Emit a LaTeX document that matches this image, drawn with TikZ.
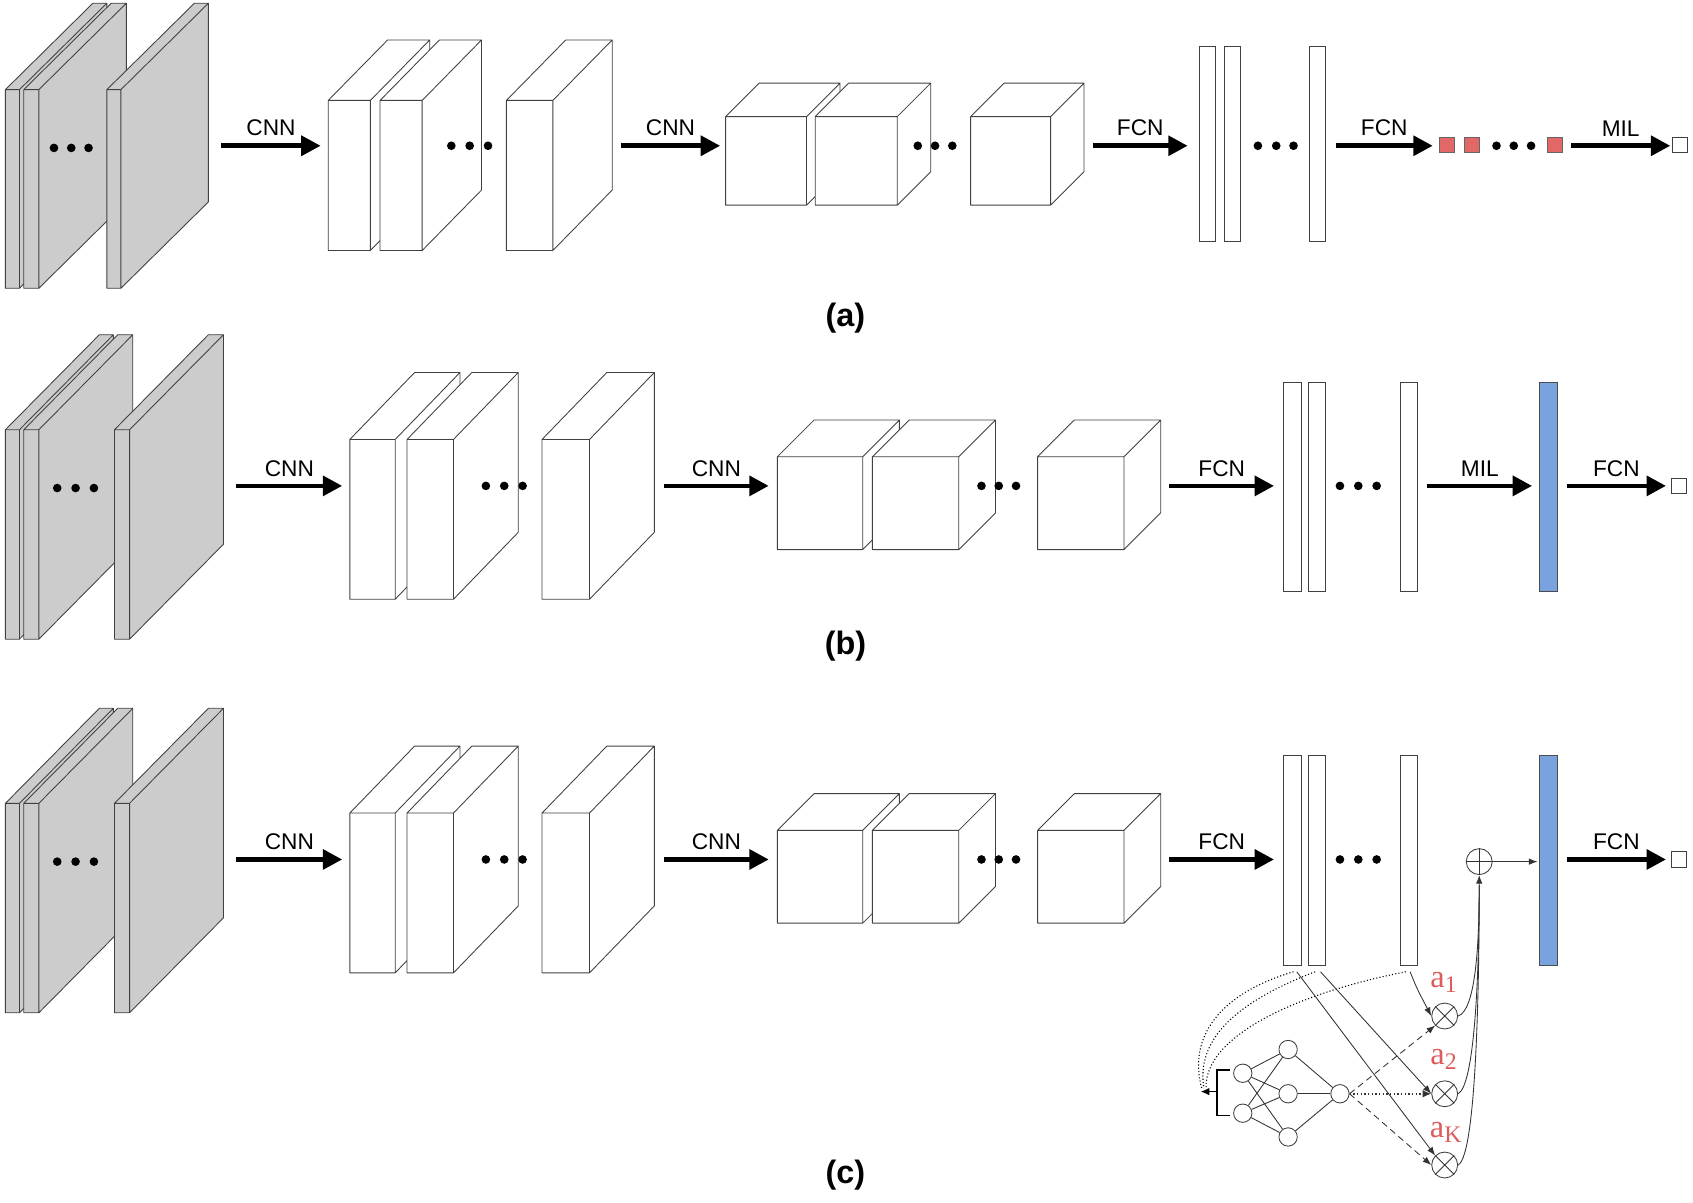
\documentclass[tikz,border=0pt]{standalone}
\usepackage{fontspec}
\setmainfont{Liberation Sans}
\newfontfamily\serf{Liberation Serif}
\usetikzlibrary{arrows.meta}
\definecolor{slabgray}{RGB}{204,204,204}
\definecolor{milblue}{RGB}{122,162,222}
\definecolor{insred}{RGB}{226,104,104}
\definecolor{lblred}{RGB}{222,92,92}
\newcommand\blk[7]{\filldraw[fill=#7,draw=black!75,line width=0.4pt,line join=round] (#1,#3) rectangle (#2,#4) (#1,#3)--(#1+#5,#3+#6)--(#2+#5,#3+#6)--(#2,#3)--cycle (#2,#3)--(#2+#5,#3+#6)--(#2+#5,#4+#6)--(#2,#4)--cycle;}
\newcommand\dts[4]{\foreach \q in {#1,#2,#3} \fill (\q,#4) circle (4);}
\begin{document}
\begin{tikzpicture}[x=0.5pt,y=-0.5pt,
  big/.style={line width=2.2pt,-{Triangle[length=9pt,width=9pt]}},
  lab/.style={font=\fontsize{10.5}{12}\selectfont,above},
  captxt/.style={font=\bfseries\fontsize{15}{18}\selectfont},
  bar/.style={draw=black!75,line width=0.4pt,fill=white},
  nn/.style={circle,draw=black!75,line width=0.4pt,minimum size=8.5pt,inner sep=0pt},
  ox/.style={circle,draw=black!75,line width=0.4pt,minimum size=12pt,inner sep=0pt},
  thin/.style={black!80,line width=0.4pt},
  al/.style={text=lblred,font=\serf\fontsize{15}{16}\selectfont}]
\useasboundingbox (0,0) rectangle (1568,1114);
% ---------- (a)
\blk{5}{18}{83}{267}{81}{-80}{slabgray}
\blk{22}{36}{83}{267}{81}{-80}{slabgray}
\blk{99}{112}{83}{267}{81}{-80}{slabgray}
\dts{50}{66}{82}{137}
\coordinate (a1s) at (205,135); \coordinate (a1e) at (297,135);
\draw[big] (a1s) -- node[lab]{CNN} (a1e);
\blk{304}{343}{93}{232}{55}{-56}{white}
\blk{352}{391}{93}{232}{55}{-56}{white}
\dts{418}{435}{452}{135}
\blk{469}{512}{93}{232}{55}{-56}{white}
\coordinate (a2s) at (575,135); \coordinate (a2e) at (667,135);
\draw[big] (a2s) -- node[lab]{CNN} (a2e);
\blk{672}{747}{108}{190}{31}{-31}{white}
\blk{755}{831}{108}{190}{31}{-31}{white}
\dts{850}{866}{882}{135}
\blk{899}{973}{108}{190}{31}{-31}{white}
\coordinate (a3s) at (1012,135); \coordinate (a3e) at (1100,135);
\draw[big] (a3s) -- node[lab]{FCN} (a3e);
\draw[bar] (1111,43) rectangle (1126,224);
\draw[bar] (1134,43) rectangle (1149,224);
\dts{1165}{1182}{1198}{135}
\draw[bar] (1213,43) rectangle (1228,224);
\coordinate (a4s) at (1237,135); \coordinate (a4e) at (1327,135);
\draw[big] (a4s) -- node[lab]{FCN} (a4e);
\foreach \q in {1333,1356,1433} \filldraw[fill=insred,draw=black!60,line width=0.3pt] (\q,127) rectangle (\q+14,141);
\dts{1386}{1402}{1418}{135}
\coordinate (a5s) at (1455,135); \coordinate (a5e) at (1547,135);
\draw[big] (a5s) -- node[lab]{MIL} (a5e);
\draw[bar] (1549,127) rectangle (1563,141);
\node[captxt] (ca) at (783,295) {(a)};
% ---------- (b) and (c)
\foreach \o/\r in {0/b,346/c}{
\blk{5}{18}{398+\o}{592+\o}{87}{-88}{slabgray}
\blk{22}{36}{398+\o}{592+\o}{87}{-88}{slabgray}
\blk{106}{120}{398+\o}{592+\o}{87}{-88}{slabgray}
\dts{53}{70}{87}{452+\o}
\draw[big] (219,450+\o) -- node[lab]{CNN} (317,450+\o);
\blk{324}{366}{407+\o}{555+\o}{60}{-62}{white}
\blk{377}{420}{407+\o}{555+\o}{60}{-62}{white}
\dts{450}{467}{484}{450+\o}
\blk{502}{546}{407+\o}{555+\o}{60}{-62}{white}
\draw[big] (615,450+\o) -- node[lab]{CNN} (712,450+\o);
\blk{720}{799}{423+\o}{509+\o}{34}{-34}{white}
\blk{808}{888}{423+\o}{509+\o}{34}{-34}{white}
\dts{909}{925}{941}{450+\o}
\blk{961}{1041}{423+\o}{509+\o}{34}{-34}{white}
\draw[big] (1083,450+\o) -- node[lab]{FCN} (1180,450+\o);
\draw[bar] (1189,354+\o) rectangle (1205,548+\o);
\draw[bar] (1212,354+\o) rectangle (1228,548+\o);
\dts{1241}{1258}{1275}{450+\o}
\draw[bar] (1297,354+\o) rectangle (1313,548+\o);
\filldraw[fill=milblue,draw=black!70,line width=0.4pt] (1426,354+\o) rectangle (1442,548+\o);
\draw[big] (1451,450+\o) -- node[lab]{FCN} (1543,450+\o);
\draw[bar] (1548,443+\o) rectangle (1562,457+\o);
}
\draw[big] (1322,450) -- node[lab]{MIL} (1419,450);
\node[captxt] (cb) at (783,598) {(b)};
\node[captxt] (cc) at (783,1088) {(c)};
% ---------- attention
\coordinate (b1) at (1198,900); \coordinate (b1r) at (1201,900);
\coordinate (b2) at (1218,900); \coordinate (b2r) at (1223,900);
\coordinate (b3) at (1302,900); \coordinate (b3r) at (1306,900);
\node[nn] (i1) at (1151,994) {};
\node[nn] (i2) at (1151,1031) {};
\node[nn] (h1) at (1193,972) {};
\node[nn] (h2) at (1193,1013) {};
\node[nn] (h3) at (1193,1053) {};
\node[nn] (o) at (1241,1013) {};
\foreach \i in {i1,i2} \foreach \h in {h1,h2,h3} \draw[thin] (\i) -- (\h);
\foreach \h in {h1,h2,h3} \draw[thin] (\h) -- (o);
\coordinate (k1) at (1139,991); \coordinate (k2) at (1127,991);
\coordinate (k3) at (1127,1033); \coordinate (k4) at (1139,1033);
\coordinate (km) at (1127,1011); \coordinate (kt) at (1112,1011);
\draw[black,line width=0.7pt] (k1) -- (k2) -- (k3) -- (k4);
\draw[black,line width=0.7pt,-{Latex[length=4pt,width=3.5pt]}] (km) -- (kt);
\node[ox] (m1) at (1338,941) {};
\node[ox] (m2) at (1338,1013) {};
\node[ox] (mk) at (1338,1079) {};
\foreach \m in {m1,m2,mk}{\draw[thin] (\m.north west) -- (\m.south east) (\m.north east) -- (\m.south west);}
\node[ox] (pl) at (1370,798) {};
\draw[thin] (pl.north) -- (pl.south) (pl.west) -- (pl.east);
\node[al] (l1) at (1337,910) {a\raisebox{-0.35ex}{\fontsize{11}{12}\selectfont 1}};
\node[al] (l2) at (1337,981) {a\raisebox{-0.35ex}{\fontsize{11}{12}\selectfont 2}};
\node[al] (lk) at (1339,1049) {a\raisebox{-0.35ex}{\fontsize{11}{12}\selectfont K}};
% dotted feeds into the network
\draw[black,line width=0.5pt,densely dotted] (b1) .. controls (1130,920) and (1100,960) .. (1113,1008);
\draw[black,line width=0.5pt,densely dotted] (b2) .. controls (1140,930) and (1108,965) .. (1115,1008);
\draw[black,line width=0.5pt,densely dotted] (b3) .. controls (1200,920) and (1115,960) .. (1117,1008);
% solid feeds
\draw[thin,-{Latex[length=4pt,width=3pt]}] (b1r) -- (mk.north west);
\draw[thin,-{Latex[length=4pt,width=3pt]}] (b2r) -- (m2.west);
\draw[thin,-{Latex[length=4pt,width=3pt]}] (b3r) .. controls (1312,915) .. (m1.west);
% attention weights
\draw[thin,densely dashed,-{Latex[length=4pt,width=3pt]}] (o.east) -- (m1.south west);
\draw[black!80,line width=0.7pt,densely dotted,-{Latex[length=4pt,width=3.5pt]}] (o.east) -- (m2.west);
\draw[thin,densely dashed,-{Latex[length=4pt,width=3pt]}] (o.east) -- (mk.west);
% to sum
\draw[thin] (m1.east) .. controls (1366,936) and (1370,880) .. (1370,820);
\draw[thin] (m2.east) .. controls (1366,1005) and (1370,900) .. (1370,820);
\draw[thin,-{Latex[length=4pt,width=3pt]}] (mk.east) .. controls (1368,1070) and (1370,900) .. (pl.south);
\draw[thin,-{Latex[length=4pt,width=3pt]}] (pl.east) -- (1424,798);
\end{tikzpicture}
\end{document}
